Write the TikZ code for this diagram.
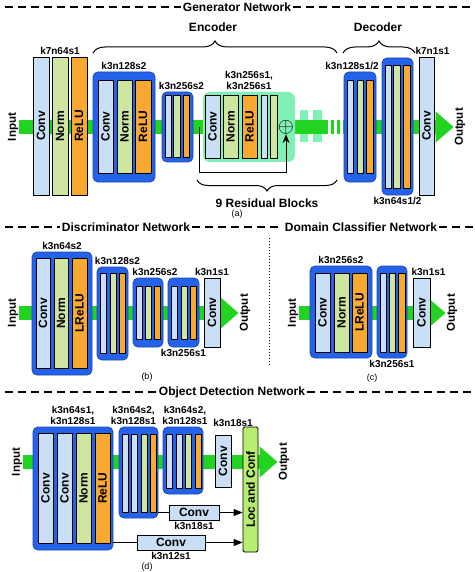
\documentclass[tikz,border=0pt]{standalone}
\usepackage{fontspec}
\setmainfont{Liberation Sans}
\usepackage{graphicx}
\usepackage{tikz}
\usetikzlibrary{positioning,arrows.meta,backgrounds,decorations.pathreplacing}

\definecolor{convc}{HTML}{C8DFF5}
\definecolor{normc}{HTML}{CFE6A0}
\definecolor{reluc}{HTML}{F9A832}
\definecolor{grpc}{HTML}{2462EA}
\definecolor{flowc}{HTML}{22D322}
\definecolor{resc}{HTML}{80F0B4}
\definecolor{locc}{HTML}{B8EE70}

\newcommand{\vt}[1]{\rotatebox{90}{#1}}

\tikzset{
  sz/.style 2 args={minimum width=#1pt, minimum height=#2pt},
  lay/.style={draw, line width=0.9pt, inner sep=0pt, font=\bfseries\fontsize{12}{12}\selectfont},
  cv/.style={lay, fill=convc},
  nm/.style={lay, fill=normc},
  rl/.style={lay, fill=reluc},
  grp/.style={draw=grpc!75!black, fill=grpc, line width=0.8pt, rounded corners=5pt, inner sep=0pt},
  lbl/.style={font=\bfseries\fontsize{10}{11}\selectfont, inner sep=1pt, align=center},
  hdr/.style={font=\bfseries\fontsize{12}{12}\selectfont, inner sep=2pt},
  sidelbl/.style={font=\bfseries\fontsize{11.5}{12}\selectfont, inner sep=1pt},
  figcap/.style={font=\fontsize{9}{9}\selectfont, inner sep=1pt},
  divider/.style={line width=1.5pt, dash pattern=on 8pt off 5pt},
  brc/.style={decorate, decoration={brace, amplitude=12pt}, line width=1pt},
  flow/.style={line width=14pt, draw=flowc},
  flowout/.style={flow, -{Triangle[length=18pt,width=30pt]}},
  link/.style={line width=0.9pt},
  linkout/.style={link, -{Triangle[length=9pt,width=7pt]}},
}

\begin{document}
\begin{tikzpicture}[x=1pt, y=-1pt]
  \useasboundingbox (0,0) rectangle (474,572);

  % (a) generator
  \node[hdr] (genT) at (237,7) {Generator Network};
  \draw[divider] (5,7) -- (genT.west) (genT.east) -- (474,7);
  \node[hdr] (enc) at (213,27) {Encoder};
  \node[hdr] (dec) at (378,27) {Decoder};
  \draw[brc] (93,53) -- (337,53);
  \draw[brc] (343,53) -- (415,53);

  \node[sidelbl] (inA) at (13,127) {\vt{Input}};
  \node[cv, sz={16}{138}] (a1c) at (41,126) {\vt{Conv}};
  \node[nm, sz={16}{138}] (a1n) at (60,126) {\vt{Norm}};
  \node[rl, sz={16}{138}] (a1r) at (79,126) {\vt{ReLU}};
  \node[lbl, above=1pt of a1n] (a1l) {k7n64s1};

  \node[grp, sz={62}{110}] (a2) at (124,127) {};
  \node[cv, sz={15}{93}] (a2c) at (105.5,126.5) {\vt{Conv}};
  \node[nm, sz={15}{93}] (a2n) at (124.5,126.5) {\vt{Norm}};
  \node[rl, sz={16}{93}] (a2r) at (143,126.5) {\vt{ReLU}};
  \node[lbl, above=1pt of a2] (a2l) {k3n128s2};

  \node[grp, sz={31}{70}] (a3) at (177.5,127) {};
  \node[cv, sz={6}{62}] (a3c) at (168,126) {};
  \node[nm, sz={7}{62}] (a3n) at (176.5,126) {};
  \node[rl, sz={6}{62}] (a3r) at (186,126) {};
  \node[lbl, above=1pt of a3, xshift=4pt] (a3l) {k3n256s2};

  \node[fill=resc, rounded corners=7pt, sz={92}{70}] (res) at (249,127) {};
  \node[cv, sz={15}{63}] (rc) at (212.5,126.5) {\vt{Conv}};
  \node[nm, sz={15}{63}] (rn) at (230.5,126.5) {\vt{Norm}};
  \node[rl, sz={15}{63}] (rr) at (249.5,126.5) {\vt{ReLU}};
  \node[cv, sz={6}{63}] (rc2) at (264,126.5) {};
  \node[nm, sz={7}{63}] (rn2) at (273.5,126.5) {};
  \node[font=\fontsize{21}{21}\selectfont, inner sep=0pt] (plus) at (286,127) {$\oplus$};
  \node[lbl, above=1pt of res] (resl) {k3n256s1,\\k3n256s1};
  \coordinate (rsIn) at (199,127);
  \draw[link, -{Stealth[length=9pt,width=7pt]}] (rsIn) |- ([yshift=-10pt]res.south) -| (plus);
  \draw[brc, decoration={amplitude=11pt}] (337,180) -- (197,180);
  \node[hdr] (resT) at (267,203) {9 Residual Blocks};

  \node[grp, sz={32}{110}] (d1) at (360,127) {};
  \node[cv, sz={6}{93}] (d1c) at (350,126.5) {};
  \node[nm, sz={6}{93}] (d1n) at (360,126.5) {};
  \node[rl, sz={7}{93}] (d1r) at (369.5,126.5) {};
  \node[lbl, above=1pt of d1, xshift=-8pt] (d1l) {k3n128s1/2};

  \node[grp, sz={31}{137}] (d2) at (397.5,126.5) {};
  \node[cv, sz={6}{123}] (d2c) at (388,126.5) {};
  \node[nm, sz={7}{123}] (d2n) at (397,126.5) {};
  \node[rl, sz={7}{123}] (d2r) at (406.5,126.5) {};
  \node[lbl, below=1pt of d2] (d2l) {k3n64s1/2};

  \node[cv, sz={15}{138}] (a7) at (426.5,126) {\vt{Conv}};
  \node[lbl, above=1pt of a7, xshift=6pt] (a7l) {k7n1s1};
  \node[sidelbl] (outA) at (460,127) {\vt{Output}};
  \node[figcap] (capA) at (237,214) {(a)};

  \coordinate (rsEnd) at (325,127);
  \begin{scope}[on background layer]
    \node[fill=resc, sz={8}{32}] (gh1) at (304,126) {};
    \node[fill=resc, sz={9}{32}] (gh2) at (317.5,126) {};
    \draw[flow] (inA.east) -- (rsEnd);
    \draw[flow, dash pattern=on 3pt off 3pt] (rsEnd) -- (d1.west);
    \draw[flowout] (d1.west) -- (outA.west);
  \end{scope}

  % (b) discriminator, (c) domain classifier
  \node[hdr] (discT) at (126,227) {Discriminator Network};
  \node[hdr] (domT) at (361,227) {Domain Classifier Network};
  \draw[divider] (5,227) -- (discT.west) (discT.east) -- (domT.west) (domT.east) -- (474,227);
  \draw[dotted, line width=1pt] (269,238) -- (269,365);

  \node[sidelbl] (inB) at (13,313) {\vt{Input}};
  \node[grp, sz={60}{123}] (b1) at (62,313.5) {};
  \node[cv, sz={14}{110}] (b1c) at (43,313) {\vt{Conv}};
  \node[nm, sz={14}{110}] (b1n) at (61,313) {\vt{Norm}};
  \node[rl, sz={15}{110}] (b1r) at (79.5,313) {\vt{LReLU}};
  \node[lbl, above=1pt of b1] (b1l) {k3n64s2};

  \node[grp, sz={31}{93}] (b2) at (112.5,313.5) {};
  \node[cv, sz={6}{80}] (b2c) at (103,313) {};
  \node[nm, sz={6}{80}] (b2n) at (113,313) {};
  \node[rl, sz={6}{80}] (b2r) at (122,313) {};
  \node[lbl, above=1pt of b2, xshift=5pt] (b2l) {k3n128s2};

  \node[grp, sz={30}{69}] (b3) at (148,312.5) {};
  \node[cv, sz={6}{53}] (b3c) at (139.5,313) {};
  \node[nm, sz={6}{53}] (b3n) at (148.5,313) {};
  \node[rl, sz={6}{53}] (b3r) at (157,313) {};
  \node[lbl, above=1pt of b3, xshift=7pt] (b3l) {k3n256s2};

  \node[grp, sz={31}{69}] (b4) at (183.5,312.5) {};
  \node[cv, sz={6}{53}] (b4c) at (174.5,313) {};
  \node[nm, sz={6}{53}] (b4n) at (184,313) {};
  \node[rl, sz={6}{53}] (b4r) at (193,313) {};
  \node[lbl, below=1pt of b4] (b4l) {k3n256s1};

  \node[cv, sz={16}{69}] (b5) at (212,312.5) {\vt{Conv}};
  \node[lbl, above=1pt of b5] (b5l) {k3n1s1};
  \node[sidelbl] (outB) at (245,313) {\vt{Output}};
  \node[figcap] (capB) at (147,377) {(b)};

  \node[sidelbl] (inC) at (293,313) {\vt{Input}};
  \node[grp, sz={62}{92}] (c1) at (341,312) {};
  \node[cv, sz={15}{79}] (c1c) at (322.5,312.5) {\vt{Conv}};
  \node[nm, sz={15}{79}] (c1n) at (341.5,312.5) {\vt{Norm}};
  \node[rl, sz={15}{79}] (c1r) at (359.5,312.5) {\vt{LReLU}};
  \node[lbl, above=1pt of c1] (c1l) {k3n256s2};

  \node[grp, sz={30}{92}] (c2) at (392,312) {};
  \node[cv, sz={6}{79}] (c2c) at (383,312.5) {};
  \node[nm, sz={6}{79}] (c2n) at (392,312.5) {};
  \node[rl, sz={7}{79}] (c2r) at (401.5,312.5) {};
  \node[lbl, below=1pt of c2] (c2l) {k3n256s1};

  \node[cv, sz={17}{69}] (c3) at (421.5,312.5) {\vt{Conv}};
  \node[lbl, above=1pt of c3, xshift=7pt] (c3l) {k3n1s1};
  \node[sidelbl] (outC) at (452,313) {\vt{Output}};
  \node[figcap] (capC) at (372,378) {(c)};

  \begin{scope}[on background layer]
    \draw[flowout] (inB.east) -- (outB.west);
    \draw[flowout] (inC.east) -- (outC.west);
  \end{scope}

  % (d) object detection
  \node[hdr] (odT) at (232,392) {Object Detection Network};
  \draw[divider] (5,392) -- (odT.west) (odT.east) -- (474,392);

  \node[sidelbl] (inD) at (17,462) {\vt{Input}};
  \node[grp, sz={80}{123}] (e1) at (73,488.5) {};
  \node[cv, sz={15}{110}] (e1c) at (45.5,488) {\vt{Conv}};
  \node[cv, sz={15}{110}] (e1d) at (64.5,488) {\vt{Conv}};
  \node[nm, sz={15}{110}] (e1n) at (83.5,488) {\vt{Norm}};
  \node[rl, sz={15}{110}] (e1r) at (102.5,488) {\vt{ReLU}};
  \node[lbl, above=1pt of e1] (e1l) {k3n64s1,\\k3n128s1};

  \node[grp, sz={39}{91}] (e2) at (138.5,472.5) {};
  \node[cv, sz={6}{78}] (e2c) at (125,473) {};
  \node[cv, sz={6}{78}] (e2d) at (134.5,473) {};
  \node[nm, sz={6}{78}] (e2n) at (144,473) {};
  \node[rl, sz={6}{78}] (e2r) at (153,473) {};
  \node[lbl, above=1pt of e2, xshift=-5pt] (e2l) {k3n64s2,\\k3n128s1};

  \node[grp, sz={40}{67}] (e3) at (183,460.5) {};
  \node[cv, sz={6}{54}] (e3c) at (169.5,461) {};
  \node[cv, sz={6}{54}] (e3d) at (179,461) {};
  \node[nm, sz={6}{54}] (e3n) at (188,461) {};
  \node[rl, sz={6}{54}] (e3r) at (198,461) {};
  \node[lbl, above=1pt of e3, xshift=2pt] (e3l) {k3n64s2,\\k3n128s1};

  \node[cv, sz={16}{52}] (e4) at (223,461) {\vt{Conv}};
  \node[lbl, above=7pt of e4, xshift=10pt] (e4l) {k3n18s1};
  \node[lay, fill=locc, rounded corners=1.5pt, sz={15}{125}] (loc) at (250.5,489.5) {\vt{Loc and Conf}};
  \node[sidelbl] (outD) at (284,462) {\vt{Output}};

  \node[cv, sz={50}{15}] (k18) at (194,512.5) {Conv};
  \node[lbl, below=1pt of k18] (k18l) {k3n18s1};
  \node[cv, sz={68}{15}] (k12) at (171,542.5) {Conv};
  \node[lbl, below=1pt of k12] (k12l) {k3n12s1};
  \node[figcap] (capD) at (147,567) {(d)};

  \draw[link] (e2.east |- k18) -- (k18);
  \draw[linkout] (k18) -- (loc.west |- k18);
  \draw[link] (e1.east |- k12) -- (k12);
  \draw[linkout] (k12) -- (loc.west |- k12);

  \begin{scope}[on background layer]
    \draw[flowout] (inD.east) -- (outD.west);
  \end{scope}
\end{tikzpicture}
\end{document}
